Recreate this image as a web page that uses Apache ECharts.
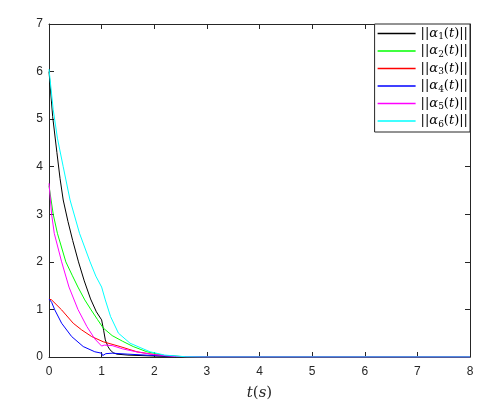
<!DOCTYPE html>
<meta charset="utf-8">
<style>
html, body { margin: 0; padding: 0; background: #fff; }
#main { width: 497px; height: 415px; }
</style>
<div id="main"></div>
<script src="https://cdn.jsdelivr.net/npm/echarts@6/dist/echarts.min.js"></script>
<script>
// as [t, value] pairs
var alpha1 = [[0,6.0],[0.07,5.05],[0.15,4.3],[0.21,3.75],[0.27,3.3],[0.36,2.85],[0.45,2.45],[0.56,2.0],[0.67,1.6],[0.79,1.22],[0.9,0.95],[1.0,0.78],[1.04,0.55],[1.07,0.36],[1.12,0.22],[1.16,0.15],[1.22,0.09],[1.29,0.06],[1.5,0.04],[2,0.02],[2.5,0.005],[3,0],[8,0]];
var alpha2 = [[0,3.6],[0.08,3.0],[0.16,2.6],[0.32,2.0],[0.44,1.72],[0.55,1.47],[0.68,1.2],[0.8,0.99],[0.92,0.79],[1.03,0.61],[1.2,0.45],[1.4,0.33],[1.6,0.22],[1.86,0.11],[2.2,0.03],[2.6,0.005],[3,0],[8,0]];
var alpha3 = [[0,1.22],[0.05,1.2],[0.24,0.99],[0.46,0.71],[0.62,0.57],[0.81,0.43],[1.03,0.32],[1.35,0.22],[1.67,0.11],[2,0.05],[2.4,0.01],[3,0],[8,0]];
var alpha4 = [[0,1.22],[0.05,1.15],[0.11,0.99],[0.24,0.71],[0.43,0.43],[0.65,0.22],[0.87,0.11],[1.0,0.08],[1.02,0.03],[1.08,0.07],[1.2,0.08],[1.5,0.06],[2,0.03],[2.5,0.01],[3,0],[8,0]];
var alpha5 = [[0,3.65],[0.05,3.0],[0.1,2.6],[0.24,2.0],[0.38,1.47],[0.55,1.0],[0.72,0.64],[0.87,0.38],[1.0,0.23],[1.05,0.25],[1.2,0.24],[1.4,0.17],[1.7,0.1],[2.0,0.05],[2.4,0.01],[3,0],[8,0]];
var alpha6 = [[0,6.05],[0.08,5.2],[0.16,4.6],[0.27,4.0],[0.4,3.3],[0.58,2.6],[0.78,2.0],[0.89,1.7],[1.0,1.47],[1.07,1.2],[1.17,0.85],[1.32,0.5],[1.54,0.29],[1.92,0.11],[2.2,0.04],[2.6,0.005],[3,0],[8,0]];

var names = ['a1', 'a2', 'a3', 'a4', 'a5', 'a6'];
var colors = ['#000000', '#00ff00', '#ff0000', '#0000ff', '#ff00ff', '#00ffff'];
var allData = [alpha1, alpha2, alpha3, alpha4, alpha5, alpha6];
var xTicks = [0, 1, 2, 3, 4, 5, 6, 7, 8];
var yTicks = [0, 1, 2, 3, 4, 5, 6, 7];

var chart = echarts.init(document.getElementById('main'));

var axisCol = '#262626';
var mathFont = '"DejaVu Serif", "Liberation Serif", serif';

function baseAxis(show) {
    return {
        axisLine: { show: true, onZero: false, lineStyle: { color: axisCol, width: 1 } },
        axisTick: { show: true, inside: true, length: 5, lineStyle: { color: axisCol } },
        axisLabel: { show: show, color: axisCol, fontSize: 12, fontFamily: 'Liberation Sans, Arial, sans-serif' },
        splitLine: { show: false }
    };
}

var xMain = baseAxis(true);
xMain.type = 'value';
xMain.min = xTicks[0];
xMain.max = xTicks[xTicks.length - 1];
xMain.interval = 1;
xMain.position = 'bottom';
xMain.axisLabel.margin = 9;
xMain.name = '{i|t}{n|(}{i|s}{n|)}';
xMain.nameLocation = 'middle';
xMain.nameGap = 29;
xMain.nameTextStyle = {
    rich: {
        i: { fontFamily: mathFont, fontStyle: 'italic', fontSize: 15, color: axisCol },
        n: { fontFamily: mathFont, fontSize: 15, color: axisCol }
    }
};

var xTop = baseAxis(false);
xTop.type = 'value';
xTop.min = xMain.min;
xTop.max = xMain.max;
xTop.interval = 1;
xTop.position = 'top';

var yMain = baseAxis(true);
yMain.type = 'value';
yMain.min = yTicks[0];
yMain.max = yTicks[yTicks.length - 1];
yMain.interval = 1;
yMain.position = 'left';
yMain.axisLabel.margin = 6;

var yRight = baseAxis(false);
yRight.type = 'value';
yRight.min = yMain.min;
yRight.max = yMain.max;
yRight.interval = 1;
yRight.position = 'right';

var option = {
    animation: false,
    backgroundColor: '#ffffff',
    grid: { left: 49, right: 27, top: 24, bottom: 58 },
    xAxis: [xMain, xTop],
    yAxis: [yMain, yRight],
    legend: {
        orient: 'vertical',
        right: 27,
        top: 24,
        padding: [3, 2, 3, 3],
        itemGap: 3,
        itemWidth: 38,
        itemHeight: 1.5,
        icon: 'rect',
        backgroundColor: '#ffffff',
        borderColor: axisCol,
        borderWidth: 1,
        borderRadius: 0,
        data: names,
        formatter: function (n) {
            var k = n.slice(1);
            return '{n|||}{i|α}{s|' + k + '}{n|(}{i|t}{n|)||}';
        },
        textStyle: {
            padding: [0, 0, 0, 0],
            rich: {
                n: { fontFamily: mathFont, fontSize: 13, lineHeight: 16, color: '#000' },
                i: { fontFamily: mathFont, fontStyle: 'italic', fontSize: 13, lineHeight: 16, color: '#000' },
                s: { fontFamily: mathFont, fontSize: 9, lineHeight: 12, color: '#000', verticalAlign: 'bottom' }
            }
        }
    },
    series: allData.map(function (d, i) {
        return {
            name: names[i],
            type: 'line',
            xAxisIndex: 0,
            yAxisIndex: 0,
            data: d,
            symbol: 'none',
            showSymbol: false,
            color: colors[i],
            itemStyle: { color: colors[i] },
            lineStyle: { color: colors[i], width: 1 },
            z: 2 + i
        };
    })
};

chart.setOption(option);
</script>
